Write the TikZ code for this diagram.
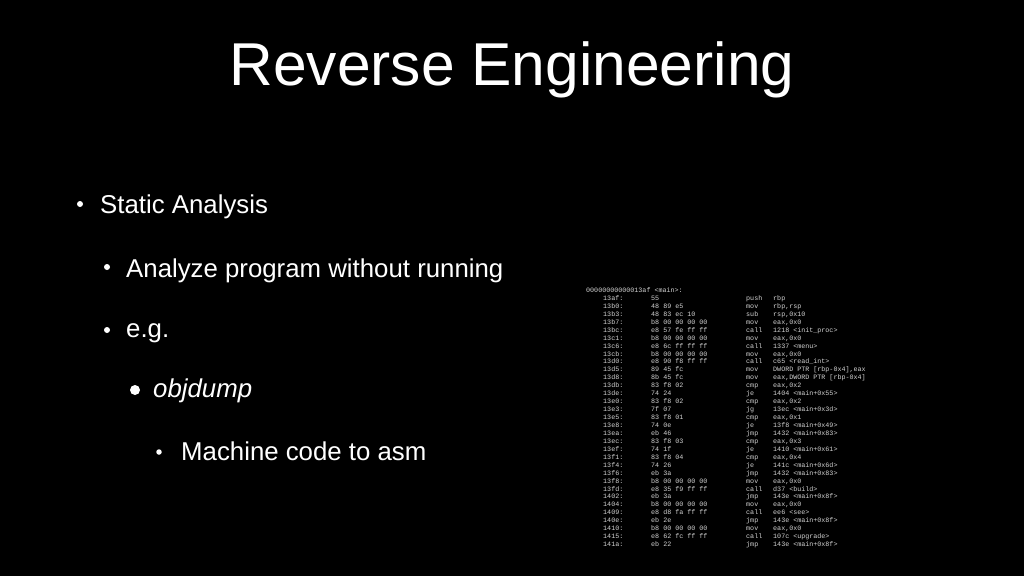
\documentclass[tikz,border=0pt]{standalone}
\usepackage{fontspec}
\setmainfont{Liberation Sans}
\newfontfamily\codefont{Liberation Mono}
\usetikzlibrary{positioning}

\begin{document}
\begin{tikzpicture}[x=1pt,y=-1pt]
	\tikzset{title/.style={text=white,anchor=base,inner sep=0pt,font=\fontsize{60.5}{60.5}\selectfont}}
	\tikzset{item/.style={text=white,anchor=base west,inner sep=0pt,font=\fontsize{25.8}{25.8}\selectfont}}
	\tikzset{dot/.style={circle,fill=white,inner sep=0pt,minimum size=#1}}
	\tikzset{code/.style={text=codegray,anchor=base west,inner sep=0pt,font=\codefont\fontsize{6.7}{6.7}\selectfont}}
	\definecolor{codegray}{HTML}{D2D2D2}
	\fill[black] (0,0) rectangle (1024,576);
	\useasboundingbox (0,0) rectangle (1024,576);
	% title
	\node[title] (head) at (512,85) {Reverse Engineering};
	% bullets
	\node[dot=6pt] (b1) at (80,204) {};
	\node[item] (static) at (100,213) {Static Analysis};
	\node[dot=6pt] (b2) at (107,267) {};
	\node[item] (analyze) at (126,277) {Analyze program without running};
	\node[dot=6pt] (b3) at (107,330) {};
	\node[item] (eg) at (126,337) {e.g.};
	\node[dot=10pt] (b4) at (135,390) {};
	\node[item] (objdump) at (153,397) {\itshape objdump};
	\node[dot=5.5pt] (b5) at (159,452) {};
	\node[item] (machine) at (181,460) {Machine code to asm};
	% objdump listing
	\node[code] (hdr) at (586,292.5) {00000000000013af <main>:};
	\foreach \addr/\bytes/\mnem/\ops [count=\i] in {
		13af/55/push/rbp,
		13b0/48 89 e5/mov/{rbp,rsp},
		13b3/48 83 ec 10/sub/{rsp,0x10},
		13b7/b8 00 00 00 00/mov/{eax,0x0},
		13bc/e8 57 fe ff ff/call/1218 <init\_proc>,
		13c1/b8 00 00 00 00/mov/{eax,0x0},
		13c6/e8 6c ff ff ff/call/1337 <menu>,
		13cb/b8 00 00 00 00/mov/{eax,0x0},
		13d0/e8 90 f8 ff ff/call/c65 <read\_int>,
		13d5/89 45 fc/mov/{DWORD PTR [rbp-0x4],eax},
		13d8/8b 45 fc/mov/{eax,DWORD PTR [rbp-0x4]},
		13db/83 f8 02/cmp/{eax,0x2},
		13de/74 24/je/1404 <main+0x55>,
		13e0/83 f8 02/cmp/{eax,0x2},
		13e3/7f 07/jg/13ec <main+0x3d>,
		13e5/83 f8 01/cmp/{eax,0x1},
		13e8/74 0e/je/13f8 <main+0x49>,
		13ea/eb 46/jmp/1432 <main+0x83>,
		13ec/83 f8 03/cmp/{eax,0x3},
		13ef/74 1f/je/1410 <main+0x61>,
		13f1/83 f8 04/cmp/{eax,0x4},
		13f4/74 26/je/141c <main+0x6d>,
		13f6/eb 3a/jmp/1432 <main+0x83>,
		13f8/b8 00 00 00 00/mov/{eax,0x0},
		13fd/e8 35 f9 ff ff/call/d37 <build>,
		1402/eb 3a/jmp/143e <main+0x8f>,
		1404/b8 00 00 00 00/mov/{eax,0x0},
		1409/e8 d8 fa ff ff/call/ee6 <see>,
		140e/eb 2e/jmp/143e <main+0x8f>,
		1410/b8 00 00 00 00/mov/{eax,0x0},
		1415/e8 62 fc ff ff/call/107c <upgrade>,
		141a/eb 22/jmp/143e <main+0x8f>}
	{
		\node[code] (a\i) at (603,292.5+7.94*\i) {\addr:};
		\node[code] (h\i) at (651,292.5+7.94*\i) {\bytes};
		\node[code] (m\i) at (746,292.5+7.94*\i) {\mnem};
		\node[code] (o\i) at (773,292.5+7.94*\i) {\ops};
	}
\end{tikzpicture}
\end{document}
